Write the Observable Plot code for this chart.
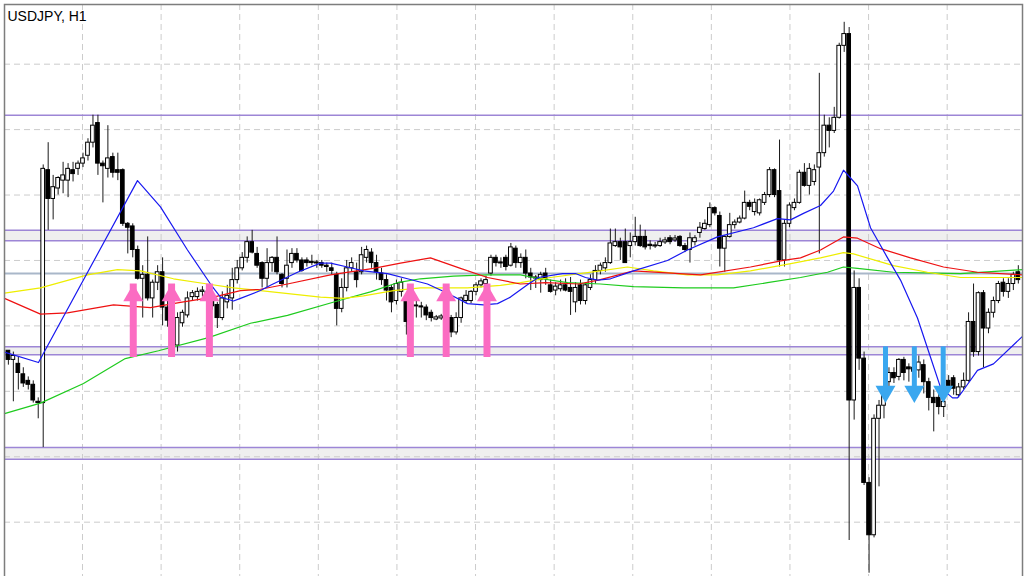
<!DOCTYPE html>
<html><head><meta charset="utf-8">
<script src="https://cdn.jsdelivr.net/npm/d3@7"></script>
<script src="https://cdn.jsdelivr.net/npm/@observablehq/plot@0.6"></script>
<style>
html,body{margin:0;padding:0;background:#fff;}
#chart{width:1024px;height:576px;overflow:hidden;}
</style></head><body><div id="chart"></div>
<script>
const title = "USDJPY, H1";

const open = [
109.31,109.24,109.21,109.13,109.08,109.05,108.92,108.91,110.69,110.47,
110.55,110.61,110.61,110.69,110.70,110.74,110.80,110.90,111.05,110.74,
110.70,110.79,110.69,110.69,110.28,110.26,110.08,109.86,109.89,109.71,
109.83,109.91,109.64,109.56,109.35,109.52,109.58,109.72,109.72,109.76,
109.76,109.72,109.66,109.56,109.68,109.71,109.85,109.94,110.02,110.14,
110.05,109.98,109.86,109.98,110.02,109.89,109.86,109.98,110.05,110.00,
110.00,109.99,109.985,109.98,109.96,109.94,109.89,109.63,109.79,109.94,
109.91,109.91,110.02,110.06,109.98,109.90,109.85,109.79,109.69,109.76,
109.69,109.62,109.656,109.649,109.64,109.60,109.549,109.557,109.56,109.56,
109.45,109.56,109.69,109.69,109.76,109.81,109.82,109.90,110.02,109.985,
110.02,109.96,110.09,109.98,110.02,109.90,109.862,109.85,109.90,109.81,
109.77,109.78,109.81,109.79,109.68,109.81,109.69,109.79,109.85,109.92,
109.94,109.98,110.11,110.14,110.14,110.11,110.14,110.18,110.18,110.12,
110.107,110.11,110.138,110.17,110.153,110.18,110.11,110.08,110.14,110.21,
110.24,110.27,110.40,110.34,110.09,110.18,110.27,110.29,110.32,110.44,
110.37,110.36,110.44,110.50,110.69,110.53,110.00,110.28,110.40,110.44,
110.67,110.57,110.60,110.71,110.82,111.03,110.99,111.09,111.64,111.73,
108.93,109.79,109.25,108.30,107.90,108.79,108.89,109.07,109.14,109.11,
109.24,109.183,109.18,109.16,109.20,109.07,108.95,108.95,108.88,109.08,
109.10,108.97,109.03,109.08,109.53,109.30,109.75,109.48,109.60,109.69,
109.83,109.76,109.82,109.91];

const close = [
109.24,109.27,109.14,109.06,109.05,108.93,108.91,110.70,110.47,110.56,
110.63,110.65,110.70,110.66,110.74,110.78,110.90,111.03,110.74,110.72,
110.78,110.67,110.67,110.28,110.25,110.08,109.86,109.89,109.71,109.83,
109.91,109.64,109.54,109.35,109.56,109.60,109.71,109.75,109.76,109.77,
109.72,109.65,109.56,109.71,109.73,109.85,109.94,110.02,110.14,110.06,
109.96,109.86,109.98,110.02,109.91,109.82,109.96,110.05,110.00,109.92,
109.98,109.98,109.977,109.96,109.95,109.92,109.63,109.79,109.94,109.98,
109.85,110.04,110.08,109.98,109.91,109.85,109.77,109.68,109.82,109.83,
109.53,109.66,109.649,109.641,109.58,109.56,109.565,109.572,109.54,109.45,
109.56,109.71,109.73,109.76,109.81,109.84,109.85,110.02,109.98,109.977,
109.95,110.10,109.98,110.02,109.90,109.87,109.870,109.89,109.86,109.76,
109.80,109.81,109.77,109.76,109.79,109.69,109.81,109.85,109.92,109.96,
109.98,110.13,110.14,110.10,109.98,110.14,110.18,110.11,110.10,110.11,
110.115,110.14,110.153,110.14,110.168,110.11,110.08,110.17,110.17,110.25,
110.28,110.40,110.36,110.09,110.18,110.27,110.29,110.32,110.44,110.41,
110.44,110.46,110.50,110.69,110.50,110.00,110.28,110.42,110.44,110.67,
110.57,110.70,110.69,110.82,111.03,110.99,111.09,111.64,111.73,108.93,
109.79,109.25,108.30,107.90,108.79,108.89,108.97,109.14,109.10,109.24,
109.14,109.168,109.15,109.22,109.07,108.95,108.91,108.88,108.92,109.02,
109.02,109.03,109.08,109.53,109.30,109.75,109.48,109.60,109.69,109.82,
109.76,109.82,109.89,109.85];

const high = [
109.31,109.30,109.26,109.18,109.11,109.08,108.95,110.73,110.90,110.65,
110.64,110.75,110.74,110.75,110.76,110.82,110.93,111.11,111.11,110.76,
111.03,110.82,110.82,110.70,110.29,110.28,110.11,109.96,110.18,109.85,
109.96,110.02,109.69,109.58,109.60,109.62,109.76,109.77,109.79,109.80,
109.79,109.76,109.68,109.76,109.81,109.94,110.00,110.06,110.18,110.23,
110.10,109.99,110.09,110.03,110.18,109.90,110.08,110.09,110.09,110.02,
110.02,110.04,110.00,110.00,109.98,109.98,109.91,109.86,110.00,110.02,
109.98,110.10,110.11,110.09,110.04,109.94,109.89,109.81,109.85,109.86,
109.71,109.69,109.69,109.68,109.66,109.62,109.58,109.588,109.62,109.58,
109.60,109.72,109.77,109.77,109.83,109.86,109.88,110.04,110.04,110.02,
110.04,110.13,110.11,110.05,110.08,109.94,109.885,109.91,109.94,109.85,
109.83,109.85,109.86,109.87,109.83,109.85,109.83,109.89,109.96,109.98,
110.02,110.24,110.24,110.17,110.24,110.21,110.33,110.27,110.23,110.15,
110.138,110.17,110.176,110.19,110.191,110.19,110.13,110.21,110.19,110.29,
110.31,110.44,110.41,110.37,110.19,110.36,110.31,110.34,110.53,110.46,
110.47,110.47,110.52,110.71,110.70,110.92,110.31,110.44,110.47,110.69,
110.74,110.74,110.73,111.43,111.11,111.09,111.17,111.66,111.82,111.78,
109.92,109.86,109.30,108.34,108.82,108.93,108.99,109.18,109.18,109.25,
109.26,109.21,109.33,109.27,109.24,109.10,109.01,108.98,108.97,109.12,
109.12,109.06,109.14,109.60,109.82,109.76,109.77,109.63,109.72,109.84,
109.86,109.86,109.91,109.96];

const low = [
109.20,108.92,109.01,109.03,109.01,108.91,108.79,108.57,110.23,110.31,
110.50,110.51,110.48,110.60,110.65,110.71,110.76,110.86,110.65,110.44,
110.63,110.63,110.61,110.26,110.05,110.02,109.85,109.56,109.69,109.56,
109.77,109.50,109.49,109.31,109.30,109.49,109.56,109.69,109.69,109.72,
109.68,109.62,109.48,109.54,109.63,109.62,109.82,109.92,109.98,110.05,
109.94,109.79,109.79,109.91,109.89,109.79,109.79,109.94,109.98,109.91,
109.95,109.96,109.94,109.94,109.91,109.89,109.50,109.60,109.76,109.91,
109.79,109.89,109.98,109.94,109.85,109.81,109.69,109.60,109.66,109.72,
109.43,109.56,109.56,109.56,109.54,109.53,109.54,109.542,109.47,109.41,
109.43,109.52,109.67,109.67,109.73,109.79,109.80,109.88,109.95,109.94,
109.92,109.95,109.94,109.94,109.86,109.77,109.786,109.75,109.81,109.75,
109.73,109.76,109.76,109.58,109.60,109.66,109.66,109.77,109.82,109.89,
109.91,109.97,110.10,110.00,109.98,110.02,110.11,110.10,110.08,110.08,
110.092,110.10,110.122,110.12,110.138,110.10,110.06,109.98,110.11,110.17,
110.23,110.25,110.34,109.95,109.91,110.17,110.24,110.28,110.31,110.38,
110.34,110.34,110.42,110.48,110.48,109.95,109.95,110.25,110.38,110.43,
110.56,110.50,110.57,110.05,110.79,110.86,110.97,111.08,111.59,107.86,
108.78,109.16,108.28,107.61,107.88,108.27,108.79,108.98,109.06,109.08,
109.08,109.07,109.05,109.10,108.98,108.85,108.69,108.82,108.80,108.99,
108.97,108.95,109.01,109.07,109.26,109.27,109.18,109.44,109.56,109.67,
109.72,109.71,109.77,109.82];

// moving averages: [bar index, price]
const maBlue = [[-0.78,109.30],[6.05,109.22],[25.95,110.61],[30.57,110.41],[36.0,110.08],[40.62,109.82],[42.63,109.72],[45.25,109.69],[46.65,109.71],[50.67,109.77],[52.68,109.81],[58.11,109.91],[62.73,109.98],[64.74,109.98],[68.16,109.95],[71.38,109.92],[76.2,109.90],[80.22,109.86],[84.24,109.82],[88.26,109.75],[92.28,109.67],[95.5,109.66],[98.31,109.67],[100.92,109.72],[104.54,109.82],[106.55,109.87],[111.38,109.90],[113.99,109.90],[116.0,109.87],[118.41,109.85],[121.03,109.86],[125.65,109.92],[132.48,110.00],[136.5,110.08],[142.53,110.18],[149.77,110.25],[154.59,110.32],[157.21,110.31],[159.82,110.36],[163.24,110.42],[165.85,110.53],[167.86,110.69],[169.27,110.63],[170.68,110.57],[173.29,110.25],[176.71,110.02],[179.32,109.85],[182.73,109.56],[185.35,109.26],[187.36,109.03],[189.77,108.95],[190.77,108.95],[191.98,109.01],[194.79,109.16],[198.01,109.21],[203.84,109.42]];
const maRed = [[-0.78,109.71],[6.45,109.59],[11.88,109.60],[21.13,109.66],[28.56,109.64],[34.59,109.68],[41.23,109.72],[46.65,109.77],[50.67,109.78],[56.1,109.82],[64.74,109.89],[73.39,109.94],[78.81,109.98],[84.84,110.02],[90.87,109.94],[96.3,109.87],[102.93,109.82],[107.96,109.83],[114.59,109.82],[118.61,109.85],[125.65,109.92],[139.12,109.89],[149.16,109.95],[155.8,110.00],[159.22,110.02],[163.24,110.08],[167.86,110.18],[170.68,110.17],[175.3,110.09],[181.33,110.02],[187.96,109.95],[194.79,109.91],[203.84,109.89]];
const maYellow = [[-0.78,109.75],[6.45,109.79],[15.9,109.89],[21.93,109.93],[26.55,109.92],[33.19,109.86],[40.02,109.82],[45.25,109.79],[50.67,109.77],[62.73,109.72],[67.36,109.71],[71.38,109.73],[77.41,109.77],[82.83,109.79],[92.28,109.79],[98.91,109.81],[102.93,109.83],[108.96,109.87],[119.01,109.92],[124.44,109.95],[129.67,109.92],[136.5,109.89],[142.53,109.89],[149.16,109.92],[157.81,109.98],[163.24,110.02],[167.86,110.06],[169.87,110.05],[177.91,109.96],[184.74,109.91],[191.38,109.87],[203.84,109.87]];
const maGreen = [[-0.78,108.83],[6.45,108.91],[15.1,109.06],[23.5,109.25],[30.17,109.31],[40.22,109.41],[48.66,109.52],[56.1,109.58],[66.15,109.69],[72.78,109.76],[78.21,109.83],[82.83,109.86],[89.47,109.88],[96.3,109.89],[102.93,109.89],[105.55,109.87],[112.38,109.83],[119.01,109.82],[125.65,109.80],[135.7,109.79],[145.75,109.79],[152.58,109.83],[159.22,109.87],[164.65,109.91],[167.86,109.95],[170.68,109.94],[177.91,109.91],[191.38,109.90],[203.84,109.93]];

// horizontal levels
const levelLines = [111.11, 110.23, 110.15, 109.34, 109.28, 108.57, 108.48];
const zoneLo = [110.15, 109.28, 108.48];
const zoneHi = [110.23, 109.34, 108.57];
const pivotLine = [109.90];

// grid
const gridPrices = [108, 108.5, 109, 109.5, 110, 110.5, 111, 111.5];
const gridBars = [14.9, 30.7, 46.5, 62.3, 78.1, 93.9, 109.7, 125.5, 141.3, 157.1, 172.9, 188.7];

// arrows
const upArrowBars = [25.1, 32.8, 40.4, 80.8, 88.0, 96.2];
const upArrowBase = 109.35, upArrowTip = 109.82;
const downArrowBars = [176.3, 182.1, 187.9];
const downArrowBase = 109.34, downArrowTip = 108.91;

const candles = open.map((o, k) => ({i: k, o, c: close[k], h: high[k], l: low[k]}));
const bull = candles.filter(d => d.c >= d.o);
const bear = candles.filter(d => d.c < d.o);
const minBody = 0.005;
const bodyLo = d => Math.min(d.o, d.c);
const bodyHi = d => Math.max(d.o, d.c, Math.min(d.o, d.c) + minBody);
const zones = zoneLo.map((lo, k) => ({lo, hi: zoneHi[k]}));

const s3 = Math.sqrt(3);
const triUp = {draw(ctx, size) { const y = -Math.sqrt(size / (s3 * 3)); ctx.moveTo(0, y * 2); ctx.lineTo(-s3 * y, -y); ctx.lineTo(s3 * y, -y); ctx.closePath(); }};
const triDown = {draw(ctx, size) { const y = Math.sqrt(size / (s3 * 3)); ctx.moveTo(0, y * 2); ctx.lineTo(-s3 * y, -y); ctx.lineTo(s3 * y, -y); ctx.closePath(); }};

const pink = "#fb6cc2", sky = "#3aa7ef", purple = "#9d86d6";

const chart = Plot.plot({
  width: 1024, height: 576,
  marginLeft: 4, marginRight: 2, marginTop: 4, marginBottom: -3,
  style: {fontFamily: "'Liberation Sans', Arial, sans-serif", background: "#fff"},
  x: {domain: [-0.78, 203.84], axis: null},
  y: {domain: [107.562, 111.956], axis: null},
  marks: [
    Plot.rect(zones, {y1: "lo", y2: "hi", fill: "#efefef"}),
    Plot.ruleY(gridPrices, {stroke: "#cccccc", strokeDasharray: "6,4", strokeWidth: 1}),
    Plot.ruleX(gridBars, {stroke: "#cccccc", strokeDasharray: "6,4", strokeWidth: 1}),
    Plot.ruleY(pivotLine, {stroke: "#a9b7c9", strokeWidth: 2}),
    Plot.ruleY(levelLines, {stroke: purple, strokeWidth: 1.5}),
    Plot.ruleX(candles, {x: "i", y1: "l", y2: "h", stroke: "#1a1a1a", strokeWidth: 1}),
    Plot.rect(bear, {x1: d => d.i - 0.37, x2: d => d.i + 0.37, y1: bodyLo, y2: bodyHi, fill: "#000", stroke: "#000", strokeWidth: 1}),
    Plot.rect(bull, {x1: d => d.i - 0.37, x2: d => d.i + 0.37, y1: bodyLo, y2: bodyHi, fill: "#fff", stroke: "#000", strokeWidth: 1}),
    Plot.line(maGreen, {x: d => d[0], y: d => d[1], stroke: "#1ecb1e", strokeWidth: 1.2}),
    Plot.line(maYellow, {x: d => d[0], y: d => d[1], stroke: "#eeee00", strokeWidth: 1.2}),
    Plot.line(maRed, {x: d => d[0], y: d => d[1], stroke: "#ee1111", strokeWidth: 1.2}),
    Plot.line(maBlue, {x: d => d[0], y: d => d[1], stroke: "#1818f0", strokeWidth: 1.2}),
    Plot.ruleX(upArrowBars, {x: d => d, y1: upArrowBase, y2: upArrowTip, stroke: pink, strokeWidth: 7, insetTop: 12}),
    Plot.dot(upArrowBars, {x: d => d, y: upArrowTip, symbol: triUp, r: 7.4, fill: pink, stroke: "none", dy: 11.5}),
    Plot.ruleX(downArrowBars, {x: d => d, y1: downArrowBase, y2: downArrowTip, stroke: sky, strokeWidth: 5, insetBottom: 12}),
    Plot.dot(downArrowBars, {x: d => d, y: downArrowTip, symbol: triDown, r: 7.4, fill: sky, stroke: "none", dy: -11.5}),
    Plot.frame({stroke: "#7d7d7d", strokeWidth: 1.5}),
    Plot.text([title], {frameAnchor: "top-left", dx: 3, dy: 6.5, text: d => d, fontSize: 14, fill: "#000"})
  ]
});
document.getElementById("chart").append(chart);
</script>
</body></html>
